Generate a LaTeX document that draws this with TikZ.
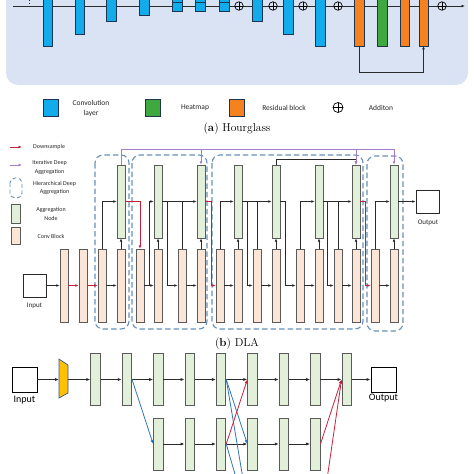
\documentclass[tikz,border=0pt]{standalone}
\usepackage{fontspec}
\newfontfamily\carl{Carlito}
\usetikzlibrary{arrows.meta,calc}
\definecolor{hgbg}{HTML}{DAE3F3}
\definecolor{hblue}{HTML}{12ABEC}
\definecolor{hgreen}{HTML}{3FA93F}
\definecolor{horange}{HTML}{F5821F}
\definecolor{hedge}{HTML}{1E3550}
\definecolor{peach}{HTML}{FBE5D6}
\definecolor{lgreen}{HTML}{E2F0D9}
\definecolor{bord}{HTML}{5A5A5A}
\definecolor{lk}{HTML}{2A2A2A}
\definecolor{dred}{HTML}{C8203A}
\definecolor{purp}{HTML}{A47CC8}
\definecolor{hdab}{HTML}{6690BA}
\definecolor{dblue}{HTML}{2E75B6}
\definecolor{gold}{HTML}{FFC000}
\definecolor{navy}{HTML}{2F5597}
\begin{document}
\begin{tikzpicture}[x=1pt,y=-1pt,
  ln/.style={draw=lk, line width=0.7pt},
  arr/.style={ln,-{Latex[length=3.4pt,width=2.8pt]}},
  redarr/.style={draw=dred, line width=0.7pt,-{Latex[length=3.4pt,width=2.8pt]}},
  purarr/.style={draw=purp, line width=0.9pt,-{Latex[length=3.4pt,width=2.8pt]}},
  bluearr/.style={draw=dblue, line width=0.8pt,-{Latex[length=4pt,width=3.2pt]}},
  barr/.style={draw=lk, line width=0.8pt,-{Latex[length=4pt,width=3.2pt]}},
  bred/.style={draw=dred, line width=0.8pt,-{Latex[length=4pt,width=3.2pt]}},
  hb/.style={draw=hedge, line width=0.5pt, minimum width=9.5pt, inner sep=0pt, anchor=south},
  oplus/.style={circle, draw=black, line width=0.7pt, fill=hgbg, minimum size=8.5pt, inner sep=0pt,
     path picture={\draw[line width=0.7pt] (path picture bounding box.north) -- (path picture bounding box.south)
       (path picture bounding box.west) -- (path picture bounding box.east);}},
  conv/.style={draw=bord, fill=peach, line width=0.6pt, minimum width=8pt, minimum height=73pt, inner sep=0pt},
  agg/.style={draw=bord, fill=lgreen, line width=0.6pt, minimum width=8pt, minimum height=73pt, inner sep=0pt},
  bnode/.style={draw=bord, fill=lgreen, line width=0.8pt, minimum width=9.5pt, minimum height=52pt, inner sep=0pt},
  hda/.style={draw=hdab, line width=1.1pt, dash pattern=on 5.5pt off 3pt, rounded corners=8pt},
  lgA/.style={font=\carl\fontsize{7.5}{10.5}\selectfont, align=center, inner sep=0pt, text=black!85},
  lgB/.style={font=\carl\fontsize{6}{8.8}\selectfont, align=center, inner sep=0pt, text=black!85},
  captxt/.style={font=\fontsize{11.5}{13}\selectfont, inner sep=0pt},
]
\useasboundingbox (0,0) rectangle (474,474);
\clip (0,0) rectangle (474,474);

% ================= (a) Hourglass =================
\fill[hgbg, rounded corners=12pt] (6,-30) rectangle (468,85);
\coordinate (hs) at (13,6);
\coordinate (he) at (465,6);
\draw[arr, line width=0.7pt] (hs) -- (he);
\draw[lk, dotted, line width=0.6pt] (29,0) -- (29,5);

\node[hb, fill=hblue, minimum height=60pt] (hb1) at (47.5,46) {};
\node[hb, fill=hblue, minimum height=48pt] (hb2) at (79.5,34) {};
\node[hb, fill=hblue, minimum height=35pt] (hb3) at (111,21) {};
\node[hb, fill=hblue, minimum height=29pt] (hb4) at (144,15) {};
\node[hb, fill=hblue, minimum height=25pt] (hb5) at (177,11) {};
\node[hb, fill=hblue, minimum height=25pt] (hb6) at (200,11) {};
\node[hb, fill=hblue, minimum height=25pt] (hb7) at (224,11) {};
\node[hb, fill=hblue, minimum height=35pt] (hb8) at (257,21) {};
\node[hb, fill=hblue, minimum height=48pt] (hb9) at (288,34) {};
\node[hb, fill=hblue, minimum height=60pt] (hb10) at (320,46) {};
\node[hb, fill=horange, minimum height=60pt] (r1) at (359,46) {};
\node[hb, fill=hgreen, minimum height=60pt] (g1) at (382,46) {};
\node[hb, fill=horange, minimum height=60pt] (r2) at (404.5,46) {};
\node[hb, fill=horange, minimum height=60pt] (r3) at (423.5,46) {};
\foreach \n in {hb5,hb6,hb7}{\draw[hedge, line width=0.5pt] (\n.west |- 0,2) -- (\n.east |- 0,2);}

\node[oplus] (p1) at (239,6) {};
\node[oplus] (p2) at (273,6) {};
\node[oplus] (p3) at (303,6) {};
\node[oplus] (p4) at (338,6) {};
\node[oplus] (p5) at (442,6) {};

\draw[arr] (r1.south) -- ++(0,26) -| (r3.south);

% legend
\node[draw=hedge, fill=hblue, line width=0.5pt, minimum width=15pt, minimum height=17pt, inner sep=0pt] (lb) at (50.5,107.5) {};
\node[lgA] (lbt) at (91,108.5) {Convolution\\layer};
\node[draw=hedge, fill=hgreen, line width=0.5pt, minimum width=15pt, minimum height=17pt, inner sep=0pt] (lg) at (152.5,107.5) {};
\node[lgA] (lgt) at (195,108) {Heatmap};
\node[draw=hedge, fill=horange, line width=0.5pt, minimum width=15pt, minimum height=17pt, inner sep=0pt] (lo) at (236.5,107.5) {};
\node[lgA] (lot) at (284,108) {Residual block};
\node[oplus, fill=white, minimum size=10pt] (lp) at (338,107.5) {};
\node[lgA] (lpt) at (381,108) {Additon};
\node[captxt] (capa) at (237,129) {(\textbf{a}) Hourglass};

% ================= (b) DLA =================
% legend
\coordinate (ld1) at (10,147); \coordinate (ld2) at (22,147);
\draw[redarr] (ld1) -- (ld2);
\node[lgB, anchor=west] (ldt) at (33,147) {Downsample};
\coordinate (li1) at (10,165); \coordinate (li2) at (22,165);
\draw[purarr] (li1) -- (li2);
\node[lgB] (lit) at (49.5,167.5) {Iterative Deep\\Aggregation};
\draw[hda, line width=0.9pt, dash pattern=on 4pt off 2.5pt, rounded corners=5pt] (10,178) rectangle (22,198);
\node[lgB] (lht) at (54.5,188) {Hierarchical Deep\\Aggregation};
\node[draw=bord, fill=lgreen, line width=0.6pt, minimum width=9pt, minimum height=19pt, inner sep=0pt] (lan) at (15.5,213.5) {};
\node[lgB] (lant) at (51,214) {Aggregation\\Node};
\node[draw=bord, fill=peach, line width=0.6pt, minimum width=9pt, minimum height=17pt, inner sep=0pt] (lcb) at (15.5,235.5) {};
\node[lgB] (lcbt) at (51,236) {Conv Block};

% hierarchical boxes
\draw[hda] (95,155) rectangle (129,329);
\draw[hda] (132,155) rectangle (207,329);
\draw[hda] (212,155) rectangle (363,329);
\draw[hda] (367,156) rectangle (403,331);

% blocks
\foreach \i/\x in {1/64,2/83,3/102,4/121,5/140,6/158,7/182,8/201,9/220,10/238,11/257,12/276,13/300,14/319,15/338,16/356,17/375,18/394}
  \node[conv] (c\i) at (\x,285.5) {};
\foreach \i/\x in {1/121,2/158,3/201,4/238,5/276,6/319,7/356,8/394}
  \node[agg] (a\i) at (\x,201.5) {};

\node[draw=lk, line width=0.7pt, minimum width=23pt, minimum height=23pt, inner sep=0pt] (din) at (34.5,285.5) {};
\node[lgB, font=\carl\fontsize{7}{8}\selectfont] (dint) at (34.5,306) {Input};
\node[draw=lk, line width=0.7pt, minimum width=23pt, minimum height=23pt, inner sep=0pt] (dout) at (427.5,201.5) {};
\node[lgB, font=\carl\fontsize{7}{8}\selectfont] (doutt) at (428,223) {Output};

% bottom-row chain
\draw[arr] (din.east) -- (c1.west);
\draw[redarr] (c1.east) -- (c2.west);
\draw[redarr] (c2.east) -- (c3.west);
\draw[arr] (c3.east) -- (c4.west);
\draw[arr] (c5.east) -- (c6.west);
\draw[arr] (c7.east) -- (c8.west);
\draw[arr] (c9.east) -- (c10.west);
\draw[arr] (c11.east) -- (c12.west);
\draw[arr] (c13.east) -- (c14.west);
\draw[arr] (c15.east) -- (c16.west);
\draw[arr] (c17.east) -- (c18.west);

% conv -> aggregation (bottom)
\foreach \c/\a in {4/1,6/2,8/3,10/4,12/5,14/6,16/7,18/8}
  \draw[arr] (c\c.north) -- (a\a.south);

% box 1
\draw[arr] (c3.north) |- (a1.west);
\draw[redarr] (a1.east) -| (c5.north);
% box 2
\coordinate (j1) at ($(c5.east)!0.5!(c6.west)$);
\draw[arr] (j1) |- (a2.west);
\draw[arr] (a2.east) -- (a3.west);
\coordinate (j2) at ($(a2.east)+(5,0)$);
\draw[arr] (j2) |- (c7.west);
\draw[ln] (c7.north) -- (c7.north |- a3.west);
\draw[redarr] (a3.east) -- ++(6,0) |- (c9.west);
% box 3
\draw[arr] (c9.north) |- (a4.west);
\draw[arr] (a4.east) -- (a5.west);
\coordinate (j3) at ($(a4.east)+(5,0)$);
\draw[arr] (j3) |- (c11.west);
\draw[ln] (c11.north) -- (c11.north |- a5.west);
\draw[arr] (a5.east) -- ++(5,0) |- (c13.west);
\draw[arr] (c13.north) |- (a6.west);
\draw[arr] (a6.east) -- (a7.west);
\coordinate (j4) at ($(a6.east)+(4,0)$);
\draw[arr] (j4) |- (c15.west);
\draw[ln] (c15.north) -- (c15.north |- a7.west);
\draw[redarr] (a7.east) -- ++(5,0) |- (c17.west);
% box 4
\draw[arr] (c17.north) |- (a8.west);
\draw[arr] (a8.east) -- (dout.west);

% top links
\draw[arr] (a5.north) |- ($(a7.north)+(0,-5)$) -- (a7.north);
\draw[purarr] (a1.north) |- ($(a8.north)+(0,-15)$) -- (a8.north);
\draw[purarr] ($(a3.north)+(0,-15)$) -- (a3.north);
\draw[purarr] ($(a7.north)+(0,-15)$) -- (a7.north);

\node[captxt] (capb) at (237,344) {(\textbf{b}) DLA};

% ================= bottom network =================
\node[draw=black, line width=0.9pt, minimum width=25pt, minimum height=25pt, inner sep=0pt] (bin) at (24.5,379.5) {};
\node[inner sep=0pt, font=\carl\fontsize{10}{11}\selectfont] (bint) at (24.5,400) {Input};
\draw[draw=navy, fill=gold, line width=0.7pt] (59,359) -- (68,365) -- (68,393) -- (59,398) -- cycle;
\coordinate (tpl) at (59,379.5);
\coordinate (tpr) at (68,379.5);
\draw[barr] (bin.east) -- (tpl);

\foreach \i/\x in {1/95.5,2/126.9,3/158.3,4/189.7,5/221.1,6/252.5,7/283.9,8/315.3,9/346.7}
  \node[bnode] (t\i) at (\x,379.5) {};
\foreach \i/\x in {1/158.3,2/189.7,3/221.1,4/252.5,5/283.9,6/315.3}
  \node[bnode] (b\i) at (\x,444) {};

\node[draw=black, line width=0.9pt, minimum width=25pt, minimum height=25pt, inner sep=0pt] (bout) at (383.5,379.5) {};
\node[inner sep=0pt, font=\carl\fontsize{10}{11}\selectfont] (boutt) at (383.5,398.5) {Output};

\draw[barr] (tpr) -- (t1.west);
\foreach \a/\b in {1/2,2/3,3/4,4/5,5/6,6/7,7/8,8/9}
  \draw[barr] (t\a.east) -- (t\b.west);
\draw[barr] (t9.east) -- (bout.west);
\foreach \a/\b in {1/2,2/3,3/4,4/5,5/6}
  \draw[barr] (b\a.east) -- (b\b.west);

\coordinate (o1) at (242.5,476);
\coordinate (o2) at (235.5,476);
\coordinate (o3) at (327.5,476);
\draw[bluearr] (t2.east) -- (b1.west);
\draw[bluearr] (t5.east) -- (b4.west);
\draw[draw=dblue, line width=0.8pt] (t5.east) -- (o1);
\draw[draw=dblue, line width=0.8pt] (b3.east) -- (o2);
\draw[bred] (b3.east) -- (t6.west);
\draw[bred] (b6.east) -- (t9.west);
\draw[bred] (o3) -- (t9.west);
\end{tikzpicture}
\end{document}
